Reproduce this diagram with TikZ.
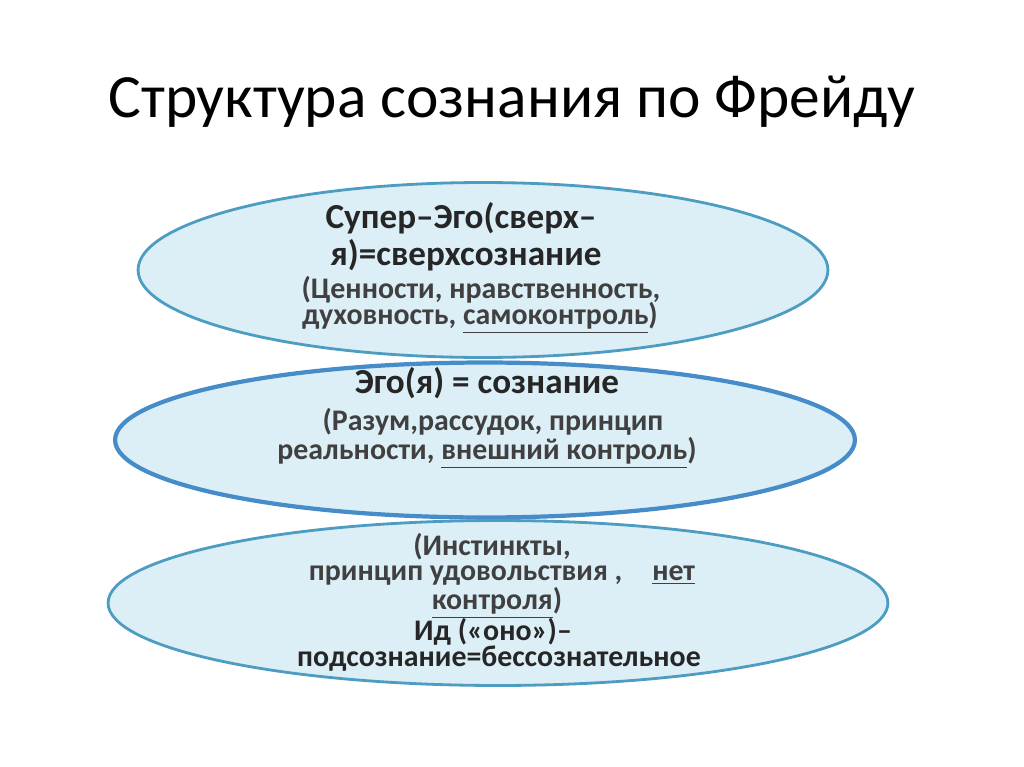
\documentclass[tikz,border=0pt]{standalone}
\usepackage{fontspec}
\setmainfont{Carlito}
\usetikzlibrary{shapes.geometric}
\definecolor{ovalfill}{HTML}{DCEFF6}
\definecolor{ovaldraw}{HTML}{4D9CC2}
\definecolor{textgray}{HTML}{404040}
\begin{document}
\begin{tikzpicture}
% style
	[x=0.02cm, y=-0.02cm,
	oval/.style={ellipse, draw=ovaldraw, fill=ovalfill, line width=1.6pt, inner sep=0pt},
	head/.style={font=\bfseries\fontsize{20}{22}\selectfont, text=black!85, inner sep=0pt},
	note/.style={font=\bfseries\fontsize{17}{19}\selectfont, text=textgray, inner sep=0pt}]
	\useasboundingbox (0,0) rectangle (1024,767);

	% title
	\node (title) at (512,102) {\fontsize{35}{40}\selectfont Структура сознания по Фрейду};

	% super-ego
	\node [oval, minimum width=13.8cm, minimum height=3.5cm] (superego) at (483,270) {};
	\node [head] (se1) at (461,218) {Супер–Эго(сверх–};
	\node [head] (se2) at (466,255) {я)=сверхсознание};
	\node [note] (se3) at (481,290) {(Ценности, нравственность,};
	\node [note] (se4) at (480,318) {духовность, \underline{самоконтроль})};

	% ego
	\node [oval, line width=2.4pt, draw=ovaldraw!90!blue, minimum width=14.8cm, minimum height=3.1cm] (ego) at (485,440) {};
	\node [head] (e1) at (487,383) {Эго(я) = сознание};
	\node [note] (e2) at (493,422) {(Разум,рассудок, принцип};
	\node [note] (e3) at (487,453) {реальности, \underline{внешний контроль})};

	% id
	\node [oval, minimum width=15.6cm, minimum height=3.3cm] (id) at (498,603) {};
	\node [note] (i1) at (492,547) {(Инстинкты,};
	\node [note] (i2) at (502,576) {принцип удовольствия ,\quad\underline{нет}};
	\node [note] (i3) at (497,603) {\underline{контроля})};
	\node [head, font=\bfseries\fontsize{17}{19}\selectfont] (i4) at (493,632) {Ид («оно»)–};
	\node [head, font=\bfseries\fontsize{17}{19}\selectfont] (i5) at (499,659) {подсознание=бессознательное};
\end{tikzpicture}
\end{document}
